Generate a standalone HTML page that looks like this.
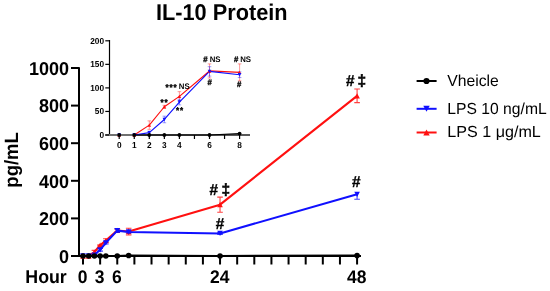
<!DOCTYPE html>
<html><head><meta charset="utf-8"><style>
html,body{margin:0;padding:0;background:#fff;}
svg{display:block;}
text{font-family:"Liberation Sans", Arial, sans-serif;fill:#000;text-rendering:geometricPrecision;}
</style></head><body>
<svg width="550" height="291" viewBox="0 0 550 291">
<rect width="550" height="291" fill="#fff"/>
<text transform="translate(156.00,19.70) scale(1,1.01)" font-size="22.6" font-weight="bold" textLength="131.5" lengthAdjust="spacingAndGlyphs">IL-10 Protein</text>
<line x1="79" y1="67.2" x2="79" y2="257" stroke="#000" stroke-width="2"/>
<line x1="71" y1="256.00" x2="79" y2="256.00" stroke="#000" stroke-width="2"/>
<text transform="translate(69.00,262.70) scale(1,1.04)" font-size="18" font-weight="bold" text-anchor="end">0</text>
<line x1="71" y1="218.40" x2="79" y2="218.40" stroke="#000" stroke-width="2"/>
<text transform="translate(69.00,225.10) scale(1,1.04)" font-size="18" font-weight="bold" text-anchor="end">200</text>
<line x1="71" y1="180.80" x2="79" y2="180.80" stroke="#000" stroke-width="2"/>
<text transform="translate(69.00,187.50) scale(1,1.04)" font-size="18" font-weight="bold" text-anchor="end">400</text>
<line x1="71" y1="143.20" x2="79" y2="143.20" stroke="#000" stroke-width="2"/>
<text transform="translate(69.00,149.90) scale(1,1.04)" font-size="18" font-weight="bold" text-anchor="end">600</text>
<line x1="71" y1="105.60" x2="79" y2="105.60" stroke="#000" stroke-width="2"/>
<text transform="translate(69.00,112.30) scale(1,1.04)" font-size="18" font-weight="bold" text-anchor="end">800</text>
<line x1="71" y1="68.00" x2="79" y2="68.00" stroke="#000" stroke-width="2"/>
<text transform="translate(69.00,74.70) scale(1,1.04)" font-size="18" font-weight="bold" text-anchor="end">1000</text>
<line x1="78" y1="256" x2="361" y2="256" stroke="#000" stroke-width="2"/>
<line x1="83.00" y1="256" x2="83.00" y2="264.5" stroke="#000" stroke-width="2"/>
<line x1="100.13" y1="256" x2="100.13" y2="264.5" stroke="#000" stroke-width="2"/>
<line x1="117.26" y1="256" x2="117.26" y2="264.5" stroke="#000" stroke-width="2"/>
<line x1="134.39" y1="256" x2="134.39" y2="264.5" stroke="#000" stroke-width="2"/>
<line x1="151.52" y1="256" x2="151.52" y2="264.5" stroke="#000" stroke-width="2"/>
<line x1="168.65" y1="256" x2="168.65" y2="264.5" stroke="#000" stroke-width="2"/>
<line x1="185.78" y1="256" x2="185.78" y2="264.5" stroke="#000" stroke-width="2"/>
<line x1="202.91" y1="256" x2="202.91" y2="264.5" stroke="#000" stroke-width="2"/>
<line x1="220.04" y1="256" x2="220.04" y2="264.5" stroke="#000" stroke-width="2"/>
<line x1="237.17" y1="256" x2="237.17" y2="264.5" stroke="#000" stroke-width="2"/>
<line x1="254.30" y1="256" x2="254.30" y2="264.5" stroke="#000" stroke-width="2"/>
<line x1="271.43" y1="256" x2="271.43" y2="264.5" stroke="#000" stroke-width="2"/>
<line x1="288.56" y1="256" x2="288.56" y2="264.5" stroke="#000" stroke-width="2"/>
<line x1="305.69" y1="256" x2="305.69" y2="264.5" stroke="#000" stroke-width="2"/>
<line x1="322.82" y1="256" x2="322.82" y2="264.5" stroke="#000" stroke-width="2"/>
<line x1="339.95" y1="256" x2="339.95" y2="264.5" stroke="#000" stroke-width="2"/>
<line x1="357.08" y1="256" x2="357.08" y2="264.5" stroke="#000" stroke-width="2"/>
<text transform="translate(82.60,282.60) scale(1,1.04)" font-size="17.5" font-weight="bold" text-anchor="middle">0</text>
<text transform="translate(99.73,282.60) scale(1,1.04)" font-size="17.5" font-weight="bold" text-anchor="middle">3</text>
<text transform="translate(116.86,282.60) scale(1,1.04)" font-size="17.5" font-weight="bold" text-anchor="middle">6</text>
<text transform="translate(219.64,282.60) scale(1,1.04)" font-size="17.5" font-weight="bold" text-anchor="middle">24</text>
<text transform="translate(356.68,282.60) scale(1,1.04)" font-size="17.5" font-weight="bold" text-anchor="middle">48</text>
<text transform="translate(25.30,282.50) scale(1,1.04)" font-size="17.8" font-weight="bold">Hour</text>
<text transform="translate(18.00,159.90) rotate(-90) scale(1,1.04)" font-size="18.5" font-weight="bold" text-anchor="middle">pg/mL</text>
<path d="M94.42,250.36V253.74M91.62,250.36H97.22M91.62,253.74H97.22" stroke="#ff1010" stroke-width="1.1" stroke-opacity="0.8" fill="none"/>
<path d="M100.13,244.72V245.85M97.33,244.72H102.93M97.33,245.85H102.93" stroke="#ff1010" stroke-width="1.1" stroke-opacity="0.8" fill="none"/>
<path d="M105.84,238.70V242.46M103.04,238.70H108.64M103.04,242.46H108.64" stroke="#ff1010" stroke-width="1.1" stroke-opacity="0.8" fill="none"/>
<path d="M117.26,229.12V231.75M114.46,229.12H120.06M114.46,231.75H120.06" stroke="#ff1010" stroke-width="1.1" stroke-opacity="0.8" fill="none"/>
<path d="M128.68,228.18V234.94M125.88,228.18H131.48M125.88,234.94H131.48" stroke="#ff1010" stroke-width="1.1" stroke-opacity="0.8" fill="none"/>
<path d="M220.04,197.16V212.20M217.24,197.16H222.84M217.24,212.20H222.84" stroke="#ff1010" stroke-width="1.1" stroke-opacity="0.8" fill="none"/>
<path d="M357.08,89.06V102.59M354.28,89.06H359.88M354.28,102.59H359.88" stroke="#ff1010" stroke-width="1.1" stroke-opacity="0.8" fill="none"/>
<polyline points="83.00,256.00 88.71,256.00 94.42,252.05 100.13,245.28 105.84,240.58 117.26,230.43 128.68,231.56 220.04,204.68 357.08,95.82" fill="none" stroke="#ff1010" stroke-width="2.1" stroke-linejoin="round"/>
<polygon points="83.00,253.34 85.80,258.66 80.20,258.66" fill="#ff1010"/>
<polygon points="88.71,253.34 91.51,258.66 85.91,258.66" fill="#ff1010"/>
<polygon points="94.42,249.39 97.22,254.71 91.62,254.71" fill="#ff1010"/>
<polygon points="100.13,242.62 102.93,247.94 97.33,247.94" fill="#ff1010"/>
<polygon points="105.84,237.92 108.64,243.24 103.04,243.24" fill="#ff1010"/>
<polygon points="117.26,227.77 120.06,233.09 114.46,233.09" fill="#ff1010"/>
<polygon points="128.68,228.90 131.48,234.22 125.88,234.22" fill="#ff1010"/>
<polygon points="220.04,202.02 222.84,207.34 217.24,207.34" fill="#ff1010"/>
<polygon points="357.08,93.16 359.88,98.48 354.28,98.48" fill="#ff1010"/>
<path d="M94.42,254.50V255.62M91.62,254.50H97.22M91.62,255.62H97.22" stroke="#1010ff" stroke-width="1.1" stroke-opacity="0.8" fill="none"/>
<path d="M100.13,248.48V251.11M97.33,248.48H102.93M97.33,251.11H102.93" stroke="#1010ff" stroke-width="1.1" stroke-opacity="0.8" fill="none"/>
<path d="M105.84,241.71V243.97M103.04,241.71H108.64M103.04,243.97H108.64" stroke="#1010ff" stroke-width="1.1" stroke-opacity="0.8" fill="none"/>
<path d="M117.26,228.74V232.50M114.46,228.74H120.06M114.46,232.50H120.06" stroke="#1010ff" stroke-width="1.1" stroke-opacity="0.8" fill="none"/>
<path d="M128.68,230.81V233.06M125.88,230.81H131.48M125.88,233.06H131.48" stroke="#1010ff" stroke-width="1.1" stroke-opacity="0.8" fill="none"/>
<path d="M220.04,232.50V234.38M217.24,232.50H222.84M217.24,234.38H222.84" stroke="#1010ff" stroke-width="1.1" stroke-opacity="0.8" fill="none"/>
<path d="M357.08,194.34V199.22M354.28,199.22H359.88" stroke="#1010ff" stroke-width="1.1" stroke-opacity="0.8" fill="none"/>
<polyline points="83.00,256.00 88.71,256.00 94.42,255.06 100.13,249.80 105.84,242.84 117.26,230.62 128.68,231.94 220.04,233.44 357.08,194.34" fill="none" stroke="#1010ff" stroke-width="2.1" stroke-linejoin="round"/>
<polygon points="83.00,258.66 85.80,253.34 80.20,253.34" fill="#1010ff"/>
<polygon points="88.71,258.66 91.51,253.34 85.91,253.34" fill="#1010ff"/>
<polygon points="94.42,257.72 97.22,252.40 91.62,252.40" fill="#1010ff"/>
<polygon points="100.13,252.46 102.93,247.14 97.33,247.14" fill="#1010ff"/>
<polygon points="105.84,245.50 108.64,240.18 103.04,240.18" fill="#1010ff"/>
<polygon points="117.26,233.28 120.06,227.96 114.46,227.96" fill="#1010ff"/>
<polygon points="128.68,234.60 131.48,229.28 125.88,229.28" fill="#1010ff"/>
<polygon points="220.04,236.10 222.84,230.78 217.24,230.78" fill="#1010ff"/>
<polygon points="357.08,197.00 359.88,191.68 354.28,191.68" fill="#1010ff"/>
<polyline points="83.00,256.00 88.71,256.00 94.42,256.00 100.13,256.00 105.84,256.00 117.26,256.00 128.68,255.44 220.04,256.00 357.08,255.62" fill="none" stroke="#000" stroke-width="2.1" stroke-linejoin="round"/>
<circle cx="83.00" cy="256.00" r="2.8" fill="#000"/>
<circle cx="88.71" cy="256.00" r="2.8" fill="#000"/>
<circle cx="94.42" cy="256.00" r="2.8" fill="#000"/>
<circle cx="100.13" cy="256.00" r="2.8" fill="#000"/>
<circle cx="105.84" cy="256.00" r="2.8" fill="#000"/>
<circle cx="117.26" cy="256.00" r="2.8" fill="#000"/>
<circle cx="128.68" cy="255.44" r="2.8" fill="#000"/>
<circle cx="220.04" cy="256.00" r="2.8" fill="#000"/>
<circle cx="357.08" cy="255.62" r="2.8" fill="#000"/>
<text transform="translate(209.40,194.80) scale(1,1.04)" font-size="15.3" font-weight="bold" stroke="#000" stroke-width="0.35">#</text>
<text transform="translate(221.60,195.20) scale(1,1.04)" font-size="15.5" font-weight="bold" stroke="#000" stroke-width="0.5">‡</text>
<text transform="translate(215.80,228.60) scale(1,1.04)" font-size="15.3" font-weight="bold" stroke="#000" stroke-width="0.35">#</text>
<text transform="translate(346.00,85.70) scale(1,1.04)" font-size="15.3" font-weight="bold" stroke="#000" stroke-width="0.35">#</text>
<text transform="translate(357.50,85.70) scale(1,1.04)" font-size="15.5" font-weight="bold" stroke="#000" stroke-width="0.5">‡</text>
<text transform="translate(352.10,187.40) scale(1,1.04)" font-size="15.3" font-weight="bold" stroke="#000" stroke-width="0.35">#</text>
<line x1="109.5" y1="40" x2="109.5" y2="135.5" stroke="#000" stroke-width="1.2"/>
<line x1="105.3" y1="135.00" x2="109.5" y2="135.00" stroke="#000" stroke-width="1.2"/>
<text transform="translate(104.00,138.00) scale(1,1.04)" font-size="8.3" font-weight="bold" text-anchor="end">0</text>
<line x1="105.3" y1="111.45" x2="109.5" y2="111.45" stroke="#000" stroke-width="1.2"/>
<text transform="translate(104.00,114.45) scale(1,1.04)" font-size="8.3" font-weight="bold" text-anchor="end">50</text>
<line x1="105.3" y1="87.90" x2="109.5" y2="87.90" stroke="#000" stroke-width="1.2"/>
<text transform="translate(104.00,90.90) scale(1,1.04)" font-size="8.3" font-weight="bold" text-anchor="end">100</text>
<line x1="105.3" y1="64.35" x2="109.5" y2="64.35" stroke="#000" stroke-width="1.2"/>
<text transform="translate(104.00,67.35) scale(1,1.04)" font-size="8.3" font-weight="bold" text-anchor="end">150</text>
<line x1="105.3" y1="40.80" x2="109.5" y2="40.80" stroke="#000" stroke-width="1.2"/>
<text transform="translate(104.00,43.80) scale(1,1.04)" font-size="8.3" font-weight="bold" text-anchor="end">200</text>
<line x1="105.3" y1="135" x2="250" y2="135" stroke="#222" stroke-width="1.3"/>
<line x1="119.20" y1="135" x2="119.20" y2="139" stroke="#000" stroke-width="1.2"/>
<line x1="134.25" y1="135" x2="134.25" y2="139" stroke="#000" stroke-width="1.2"/>
<line x1="149.30" y1="135" x2="149.30" y2="139" stroke="#000" stroke-width="1.2"/>
<line x1="164.35" y1="135" x2="164.35" y2="139" stroke="#000" stroke-width="1.2"/>
<line x1="179.40" y1="135" x2="179.40" y2="139" stroke="#000" stroke-width="1.2"/>
<line x1="194.45" y1="135" x2="194.45" y2="139" stroke="#000" stroke-width="1.2"/>
<line x1="209.50" y1="135" x2="209.50" y2="139" stroke="#000" stroke-width="1.2"/>
<line x1="224.55" y1="135" x2="224.55" y2="139" stroke="#000" stroke-width="1.2"/>
<line x1="239.60" y1="135" x2="239.60" y2="139" stroke="#000" stroke-width="1.2"/>
<text transform="translate(119.20,148.00) scale(1,1.04)" font-size="8.3" font-weight="bold" text-anchor="middle">0</text>
<text transform="translate(134.25,148.00) scale(1,1.04)" font-size="8.3" font-weight="bold" text-anchor="middle">1</text>
<text transform="translate(149.30,148.00) scale(1,1.04)" font-size="8.3" font-weight="bold" text-anchor="middle">2</text>
<text transform="translate(164.35,148.00) scale(1,1.04)" font-size="8.3" font-weight="bold" text-anchor="middle">3</text>
<text transform="translate(179.40,148.00) scale(1,1.04)" font-size="8.3" font-weight="bold" text-anchor="middle">4</text>
<text transform="translate(209.50,148.00) scale(1,1.04)" font-size="8.3" font-weight="bold" text-anchor="middle">6</text>
<text transform="translate(239.60,148.00) scale(1,1.04)" font-size="8.3" font-weight="bold" text-anchor="middle">8</text>
<path d="M149.30,120.87V129.35M147.50,120.87H151.10M147.50,129.35H151.10" stroke="#ff1010" stroke-width="0.7" stroke-opacity="0.6" fill="none"/>
<path d="M164.35,105.33V108.15M162.55,105.33H166.15M162.55,108.15H166.15" stroke="#ff1010" stroke-width="0.7" stroke-opacity="0.6" fill="none"/>
<path d="M179.40,91.67V101.09M177.60,91.67H181.20M177.60,101.09H181.20" stroke="#ff1010" stroke-width="0.7" stroke-opacity="0.6" fill="none"/>
<path d="M209.50,63.88V78.01M207.70,63.88H211.30M207.70,78.01H211.30" stroke="#ff1010" stroke-width="0.7" stroke-opacity="0.6" fill="none"/>
<path d="M239.60,63.88V80.84M237.80,63.88H241.40M237.80,80.84H241.40" stroke="#ff1010" stroke-width="0.7" stroke-opacity="0.6" fill="none"/>
<polyline points="119.20,135.00 134.25,135.00 149.30,125.11 164.35,106.74 179.40,96.38 209.50,70.94 239.60,72.36" fill="none" stroke="#ff1010" stroke-width="1.15" stroke-linejoin="round"/>
<path d="M149.30,131.23V134.06M147.50,131.23H151.10M147.50,134.06H151.10" stroke="#1010ff" stroke-width="0.7" stroke-opacity="0.6" fill="none"/>
<path d="M164.35,116.16V122.75M162.55,116.16H166.15M162.55,122.75H166.15" stroke="#1010ff" stroke-width="0.7" stroke-opacity="0.6" fill="none"/>
<path d="M179.40,99.20V104.86M177.60,99.20H181.20M177.60,104.86H181.20" stroke="#1010ff" stroke-width="0.7" stroke-opacity="0.6" fill="none"/>
<path d="M209.50,66.70V76.12M207.70,66.70H211.30M207.70,76.12H211.30" stroke="#1010ff" stroke-width="0.7" stroke-opacity="0.6" fill="none"/>
<path d="M239.60,71.89V77.54M237.80,71.89H241.40M237.80,77.54H241.40" stroke="#1010ff" stroke-width="0.7" stroke-opacity="0.6" fill="none"/>
<polyline points="119.20,135.00 134.25,135.00 149.30,132.65 164.35,119.46 179.40,102.03 209.50,71.42 239.60,74.71" fill="none" stroke="#1010ff" stroke-width="1.15" stroke-linejoin="round"/>
<polyline points="119.20,135.00 134.25,135.00 149.30,135.00 164.35,135.00 179.40,135.00 209.50,135.00 239.60,133.59" fill="none" stroke="#000" stroke-width="1.1" stroke-linejoin="round"/>
<line x1="109" y1="135" x2="135.75" y2="135" stroke="#707070" stroke-width="2"/>
<polygon points="119.20,133.29 121.00,136.71 117.40,136.71" fill="#ff1010"/>
<polygon points="134.25,133.29 136.05,136.71 132.45,136.71" fill="#ff1010"/>
<polygon points="149.30,123.40 151.10,126.82 147.50,126.82" fill="#ff1010"/>
<polygon points="164.35,105.03 166.15,108.45 162.55,108.45" fill="#ff1010"/>
<polygon points="179.40,94.67 181.20,98.09 177.60,98.09" fill="#ff1010"/>
<polygon points="209.50,69.23 211.30,72.65 207.70,72.65" fill="#ff1010"/>
<polygon points="239.60,70.65 241.40,74.07 237.80,74.07" fill="#ff1010"/>
<polygon points="119.20,136.71 121.00,133.29 117.40,133.29" fill="#1010ff"/>
<polygon points="134.25,136.71 136.05,133.29 132.45,133.29" fill="#1010ff"/>
<polygon points="149.30,134.36 151.10,130.94 147.50,130.94" fill="#1010ff"/>
<polygon points="164.35,121.17 166.15,117.75 162.55,117.75" fill="#1010ff"/>
<polygon points="179.40,103.74 181.20,100.32 177.60,100.32" fill="#1010ff"/>
<polygon points="209.50,73.12 211.30,69.71 207.70,69.71" fill="#1010ff"/>
<polygon points="239.60,76.42 241.40,73.00 237.80,73.00" fill="#1010ff"/>
<circle cx="119.20" cy="135.00" r="1.9" fill="#000"/>
<circle cx="134.25" cy="135.00" r="1.9" fill="#000"/>
<circle cx="149.30" cy="135.00" r="1.9" fill="#000"/>
<circle cx="164.35" cy="135.00" r="1.9" fill="#000"/>
<circle cx="179.40" cy="135.00" r="1.9" fill="#000"/>
<circle cx="209.50" cy="135.00" r="1.9" fill="#000"/>
<circle cx="239.60" cy="133.59" r="1.9" fill="#000"/>
<text transform="translate(160.50,104.80) scale(1,1.04)" font-size="8" letter-spacing="0.9" font-weight="bold" stroke="#000" stroke-width="0.35">**</text>
<text transform="translate(175.90,113.10) scale(1,1.04)" font-size="8" letter-spacing="0.9" font-weight="bold" stroke="#000" stroke-width="0.35">**</text>
<text transform="translate(165.50,90.20) scale(1,1.04)" font-size="8" letter-spacing="0.9" font-weight="bold" stroke="#000" stroke-width="0.35">***</text>
<text transform="translate(178.80,88.80) scale(1,1.04)" font-size="7.8" font-weight="bold">NS</text>
<text transform="translate(203.30,62.10) scale(1,1.04)" font-size="7.8" font-weight="bold" stroke="#000" stroke-width="0.3">#</text>
<text transform="translate(209.70,62.10) scale(1,1.04)" font-size="7.8" font-weight="bold">NS</text>
<text transform="translate(234.00,62.10) scale(1,1.04)" font-size="7.8" font-weight="bold" stroke="#000" stroke-width="0.3">#</text>
<text transform="translate(240.20,62.10) scale(1,1.04)" font-size="7.8" font-weight="bold">NS</text>
<text transform="translate(207.50,84.80) scale(1,1.04)" font-size="7.8" font-weight="bold" stroke="#000" stroke-width="0.3">#</text>
<text transform="translate(237.00,87.10) scale(1,1.04)" font-size="7.8" font-weight="bold" stroke="#000" stroke-width="0.3">#</text>
<line x1="416.6" y1="81" x2="436.6" y2="81" stroke="#000" stroke-width="2"/>
<circle cx="426.5" cy="81" r="3.1" fill="#000"/>
<text transform="translate(447.30,85.60) scale(1,1.04)" font-size="15.4" textLength="51.5" lengthAdjust="spacingAndGlyphs">Vheicle</text>
<line x1="416.6" y1="108.8" x2="436.6" y2="108.8" stroke="#1010ff" stroke-width="2"/>
<polygon points="426.50,111.84 429.70,105.76 423.30,105.76" fill="#1010ff"/>
<text transform="translate(447.30,113.80) scale(1,1.04)" font-size="15.4" textLength="99.4" lengthAdjust="spacingAndGlyphs">LPS 10 ng/mL</text>
<line x1="416.6" y1="132.5" x2="436.6" y2="132.5" stroke="#ff1010" stroke-width="2"/>
<polygon points="426.50,129.46 429.70,135.54 423.30,135.54" fill="#ff1010"/>
<text transform="translate(447.30,137.20) scale(1,1.04)" font-size="15.4" textLength="93.5" lengthAdjust="spacingAndGlyphs">LPS 1 μg/mL</text>
</svg>
</body></html>
